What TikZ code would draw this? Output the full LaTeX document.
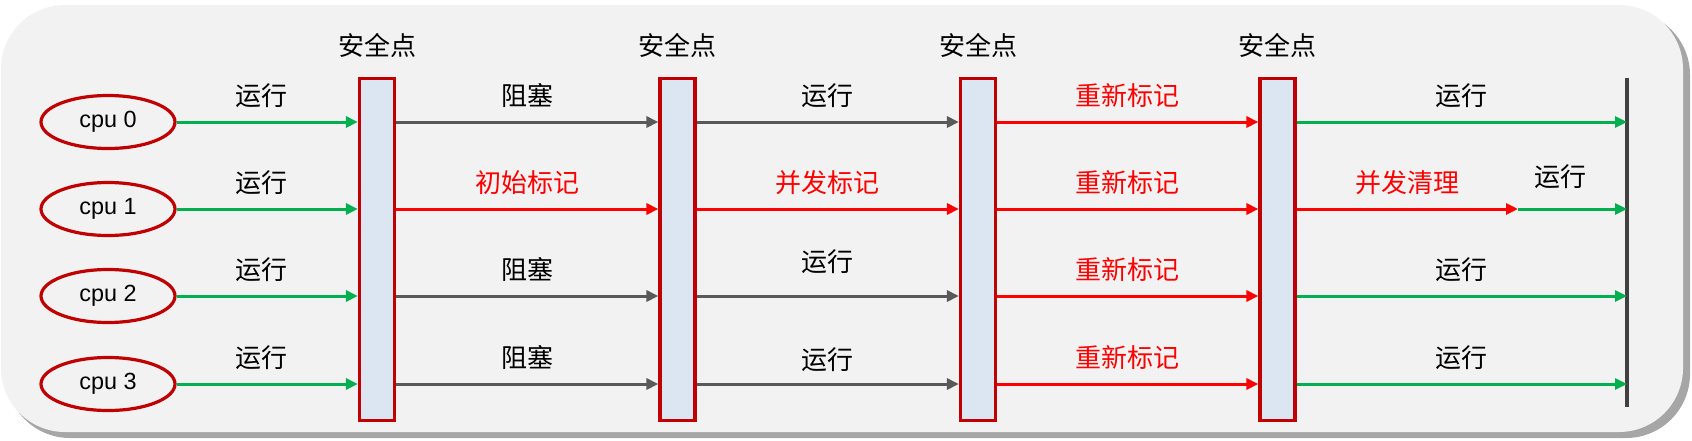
\documentclass[tikz,border=0pt]{standalone}
\usepackage{fontspec}
\setmainfont{Liberation Sans}
\newfontfamily\cjk{Noto Sans CJK SC}
\usetikzlibrary{arrows.meta, shapes.geometric}

\definecolor{panelbg}{HTML}{F2F2F2}
\definecolor{panelshadow}{HTML}{A6A6A6}
\definecolor{darkred}{HTML}{C00000}
\definecolor{barfill}{HTML}{DCE6F2}
\definecolor{rungreen}{HTML}{00B050}
\definecolor{waitgray}{HTML}{595959}
\definecolor{endgray}{HTML}{404040}

\begin{document}
\begin{tikzpicture}[
    x=0.5pt, y=-0.5pt,
    >={Triangle[length=6pt, width=5.5pt]},
    font=\cjk\fontsize{13}{15}\selectfont,
    cpu/.style={ellipse, draw=darkred, line width=1.6pt, minimum width=67pt, minimum height=26.5pt, inner sep=0pt, font=\fontsize{11.7}{14}\selectfont},
    safept/.style={rectangle, draw=darkred, fill=barfill, line width=1.6pt, minimum width=17.5pt, minimum height=171pt, inner sep=0pt},
    sptext/.style={above=6pt},
    run/.style={->, rungreen, line width=1.5pt},
    wait/.style={->, waitgray, line width=1.5pt},
    gcwork/.style={->, red, line width=1.5pt},
    lbl/.style={midway, above=3pt, text=black},
    redlbl/.style={midway, above=3pt, text=red}
]
\useasboundingbox (0,0) rectangle (1692,440);
% panel with shadow
\fill[panelshadow, rounded corners=32pt] (6,11) rectangle (1690,438);
\fill[panelbg, rounded corners=32pt] (1,5) rectangle (1683,432);

% cpus
\node[cpu] (cpu0) at (108,122) {cpu 0};
\node[cpu] (cpu1) at (108,209) {cpu 1};
\node[cpu] (cpu2) at (108,296) {cpu 2};
\node[cpu] (cpu3) at (108,384) {cpu 3};

% safe points
\node[safept] (sp1) at (377,249.5) {};
\node[safept] (sp2) at (677.5,249.5) {};
\node[safept] (sp3) at (978,249.5) {};
\node[safept] (sp4) at (1277.5,249.5) {};
\node[sptext] at (sp1.north) {安全点};
\node[sptext] at (sp2.north) {安全点};
\node[sptext] at (sp3.north) {安全点};
\node[sptext] at (sp4.north) {安全点};

% end line
\coordinate (endtop) at (1627,78);
\coordinate (endbot) at (1627,407);
\coordinate (split) at (1518,209);
\draw[endgray, line width=1.6pt] (endtop) -- (endbot);

% cpu -> first safe point
\draw[run] (cpu0) -- (sp1.west |- cpu0) node[lbl, xshift=-3pt]{运行};
\draw[run] (cpu1) -- (sp1.west |- cpu1) node[lbl, xshift=-3pt]{运行};
\draw[run] (cpu2) -- (sp1.west |- cpu2) node[lbl, xshift=-3pt]{运行};
\draw[run] (cpu3) -- (sp1.west |- cpu3) node[lbl, xshift=-3pt]{运行};

% first -> second
\draw[wait] (sp1.east |- cpu0) -- (sp2.west |- cpu0) node[lbl]{阻塞};
\draw[gcwork] (sp1.east |- cpu1) -- (sp2.west |- cpu1) node[redlbl]{初始标记};
\draw[wait] (sp1.east |- cpu2) -- (sp2.west |- cpu2) node[lbl]{阻塞};
\draw[wait] (sp1.east |- cpu3) -- (sp2.west |- cpu3) node[lbl]{阻塞};

% second -> third
\draw[wait] (sp2.east |- cpu0) -- (sp3.west |- cpu0) node[lbl]{运行};
\draw[gcwork] (sp2.east |- cpu1) -- (sp3.west |- cpu1) node[redlbl]{并发标记};
\draw[wait] (sp2.east |- cpu2) -- (sp3.west |- cpu2) node[lbl, above=4pt]{运行};
\draw[wait] (sp2.east |- cpu3) -- (sp3.west |- cpu3) node[lbl, above=-1pt]{运行};

% third -> fourth
\draw[gcwork] (sp3.east |- cpu0) -- (sp4.west |- cpu0) node[redlbl]{重新标记};
\draw[gcwork] (sp3.east |- cpu1) -- (sp4.west |- cpu1) node[redlbl]{重新标记};
\draw[gcwork] (sp3.east |- cpu2) -- (sp4.west |- cpu2) node[redlbl]{重新标记};
\draw[gcwork] (sp3.east |- cpu3) -- (sp4.west |- cpu3) node[redlbl]{重新标记};

% fourth -> end
\draw[run] (sp4.east |- cpu0) -- (endtop |- cpu0) node[lbl]{运行};
\draw[gcwork] (sp4.east |- cpu1) -- (split) node[redlbl]{并发清理};
\draw[run] (split) -- (endtop |- cpu1) node[lbl, xshift=-6pt, above=3pt]{运行};
\draw[run] (sp4.east |- cpu2) -- (endtop |- cpu2) node[lbl]{运行};
\draw[run] (sp4.east |- cpu3) -- (endtop |- cpu3) node[lbl]{运行};
\end{tikzpicture}
\end{document}
